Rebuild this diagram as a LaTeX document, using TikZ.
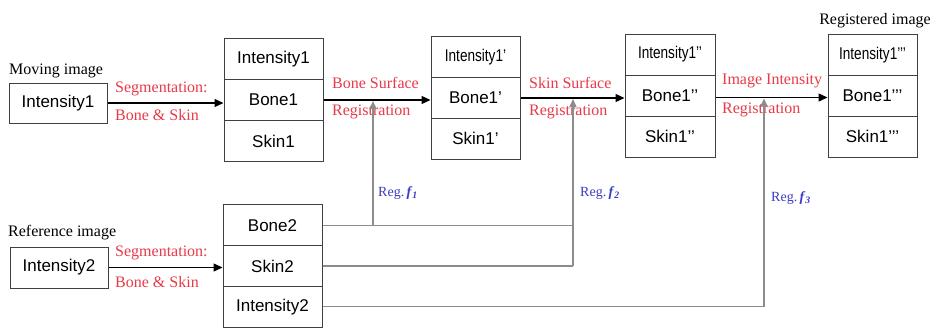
\documentclass[tikz,border=0pt]{standalone}
\usepackage{fontspec}
\usepackage{graphicx}
\setmainfont{Liberation Serif}
\setsansfont{Liberation Sans}
\usetikzlibrary{arrows.meta,calc}
\definecolor{lblred}{RGB}{232,58,72}
\definecolor{lblblue}{RGB}{60,60,200}
\newcommand{\narrowtext}[1]{\scalebox{0.8}[1]{#1}}
\begin{document}
\begin{tikzpicture}[x=1pt,y=-1pt,
 cell/.style={draw=black!75, line width=1pt, inner sep=0pt, font=\sffamily\fontsize{17}{20}\selectfont},
 lbl/.style={text=lblred, font=\fontsize{16}{19}\selectfont, anchor=west, inner sep=0pt},
 capt/.style={font=\fontsize{16}{19}\selectfont, inner sep=0pt},
 flow/.style={line width=1.4pt, -{Triangle[length=9pt,width=8pt]}},
 feed/.style={draw=black!45, line width=1.4pt},
 feedarrow/.style={feed, -{Triangle[length=8pt,width=7pt]}, black!45, shorten >=1pt},
 regl/.style={text=lblblue, anchor=west, font=\fontsize{14}{16}\selectfont, inner sep=0pt}
]
\useasboundingbox (0,0) rectangle (943,335);
\fill[white] (0,0) rectangle (943,335);

% input boxes
\node[cell, minimum width=98pt, minimum height=40pt] (in1) at (58,103) {Intensity1};
\node[cell, minimum width=98pt, minimum height=41pt] (in2) at (59,267.5) {Intensity2};
\node[capt, anchor=west] (cap1) at (9,71) {Moving image};
\node[capt, anchor=west] (cap2) at (8,233) {Reference image};
\node[capt] (cap3) at (875,21) {Registered image};

% stack 1
\node[cell, minimum width=99pt, minimum height=41.3pt] (s1a) at (273.5,58.7) {Intensity1};
\node[cell, minimum width=99pt, minimum height=41.3pt] (s1b) at (273.5,100) {Bone1};
\node[cell, minimum width=99pt, minimum height=41.3pt] (s1c) at (273.5,141.3) {Skin1};
% stack 2
\node[cell, minimum width=89pt, minimum height=40.7pt] (s2a) at (475.5,57.3) {\narrowtext{Intensity1’}};
\node[cell, minimum width=89pt, minimum height=40.7pt] (s2b) at (475.5,98) {Bone1’};
\node[cell, minimum width=89pt, minimum height=40.7pt] (s2c) at (475.5,138.7) {Skin1’};
% stack 3
\node[cell, minimum width=90pt, minimum height=41pt] (s3a) at (670,54.5) {\narrowtext{Intensity1’’}};
\node[cell, minimum width=90pt, minimum height=41pt] (s3b) at (670,95.5) {Bone1’’};
\node[cell, minimum width=90pt, minimum height=41pt] (s3c) at (670,136.5) {Skin1’’};
% stack 4
\node[cell, minimum width=89pt, minimum height=40.7pt] (s4a) at (872.5,55.3) {\narrowtext{Intensity1’’’}};
\node[cell, minimum width=89pt, minimum height=40.7pt] (s4b) at (872.5,96) {Bone1’’’};
\node[cell, minimum width=89pt, minimum height=40.7pt] (s4c) at (872.5,136.7) {Skin1’’’};
% stack 5
\node[cell, minimum width=99pt, minimum height=40.7pt] (s5a) at (272.5,225.3) {Bone2};
\node[cell, minimum width=99pt, minimum height=40.7pt] (s5b) at (272.5,266) {Skin2};
\node[cell, minimum width=99pt, minimum height=40.7pt] (s5c) at (272.5,306.7) {Intensity2};

% main arrows
\draw[flow] (in1.east) -- (in1.east -| s1b.west);
\draw[flow] (in2.east) -- (in2.east -| s5b.west);
\draw[flow] (s1b.east) -- (s1b.east -| s2b.west);
\draw[flow] (s2b.east) -- (s2b.east -| s3b.west);
\draw[flow] ([yshift=-2pt]s3b.east) -- ([yshift=-2pt]s3b.east -| s4b.west);

% junctions on main arrows
\coordinate (m1) at (373,100);
\coordinate (m2) at (573,98);
\coordinate (m3) at (764,97.5);

% labels
\node[lbl] (l1) at (115,89) {Segmentation:};
\node[lbl] (l2) at (115,115) {Bone \& Skin};
\node[lbl] (l3) at (115,253) {Segmentation:};
\node[lbl] (l4) at (115,282) {Bone \& Skin};
\node[lbl] (l5) at (332,83) {Bone Surface};
\node[lbl] (l6) at (332,112) {Registration};
\node[lbl] (l7) at (529,83) {Skin Surface};
\node[lbl] (l8) at (529,112) {Registration};
\node[lbl] (l9) at (722,81) {Image Intensity};
\node[lbl] (l10) at (722,110) {Registration};

\node[regl] (r1) at (378,193) {Reg.\,\textbf{\textit{f}}\textsubscript{\textbf{\textit{1}}}};
\node[regl] (r2) at (580,193) {Reg.\,\textbf{\textit{f}}\textsubscript{\textbf{\textit{2}}}};
\node[regl] (r3) at (771,198) {Reg.\,\textbf{\textit{f}}\textsubscript{\textbf{\textit{3}}}};

% feedback connectors
\draw[feed] (s5a.east) -- (s5a.east -| m2);
\draw[feedarrow] (s5a.east -| m1) -- (m1);
\draw[feed] (s5b.east) -- (s5b.east -| m2);
\draw[feedarrow] (s5b.east -| m2) -- (m2);
\draw[feed] (s5c.east) -- (s5c.east -| m3);
\draw[feedarrow] (s5c.east -| m3) -- (m3);
\end{tikzpicture}
\end{document}
